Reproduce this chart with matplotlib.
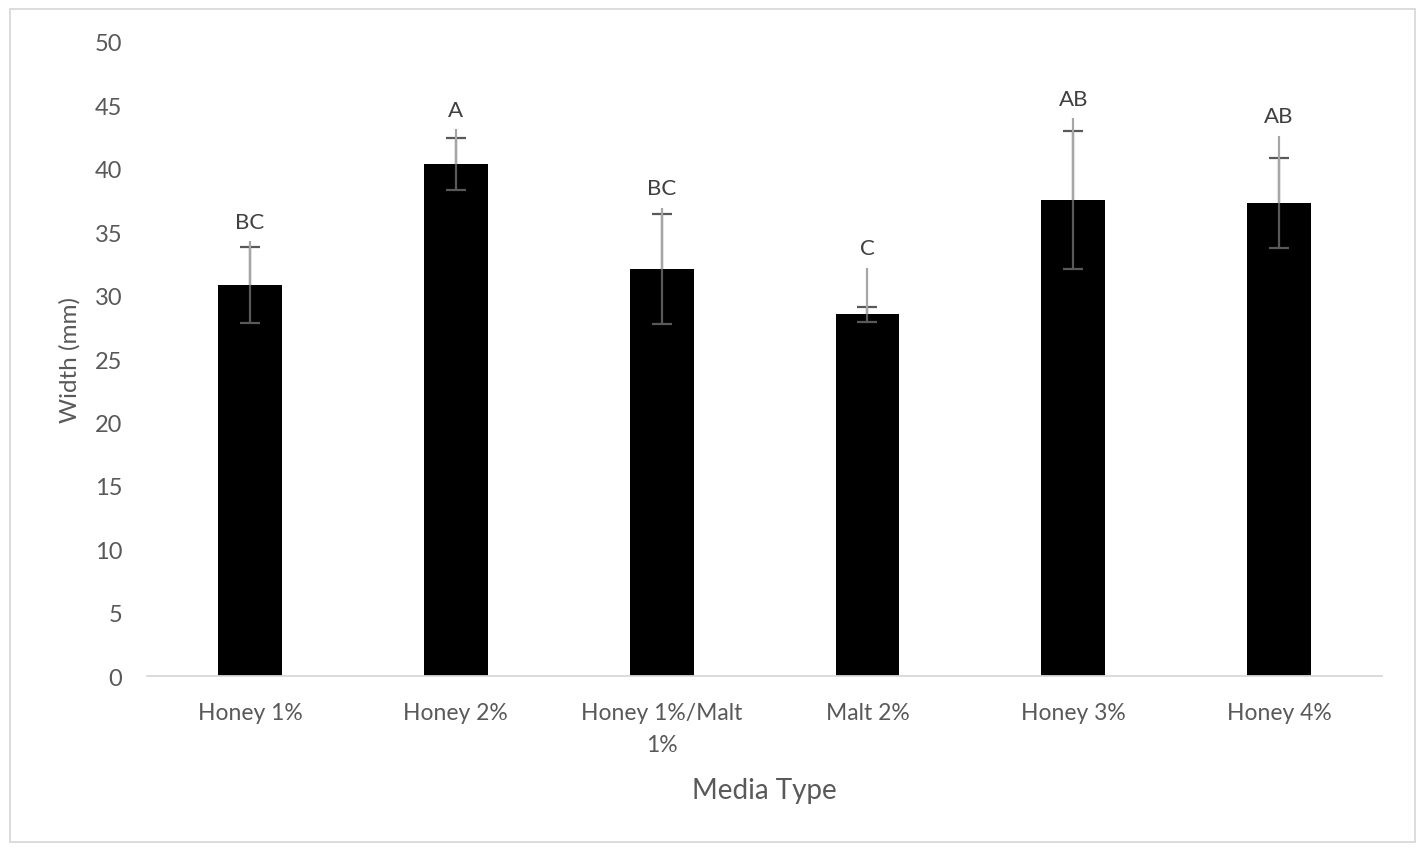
import matplotlib.pyplot as plt
from matplotlib.patches import Rectangle
import numpy as np

# datos
medios = ['Honey 1%', 'Honey 2%', 'Honey 1%/Malt\n1%', 'Malt 2%', 'Honey 3%', 'Honey 4%']
ancho = [30.84, 40.38, 32.1, 28.52, 37.54, 37.28]
error = [3.0, 2.04, 4.3, 0.57, 5.47, 3.54]
tope_claro = [34.27, 43.1, 36.9, 32.2, 43.98, 42.57]
letras = ['BC', 'A', 'BC', 'C', 'AB', 'AB']

plt.rcParams['font.family'] = ['Lato', 'DejaVu Sans']
gris = '#595959'

fig = plt.figure(figsize=(14.25, 8.53), dpi=100)
ax = fig.add_axes([0.1032, 0.2063, 0.8666, 0.7433])

x = np.arange(len(medios))
ax.bar(x, ancho, width=0.31, color='black', zorder=2)
ax.errorbar(x, ancho, yerr=error, fmt='none', ecolor=gris, elinewidth=1.6,
            capsize=7, capthick=1.6, zorder=3)
ax.vlines(x, ancho, tope_claro, color='#a6a6a6', linewidth=1.6, zorder=4)

for xi, yi, t in zip(x, tope_claro, letras):
    ax.annotate(t, (xi, yi), xytext=(0, 7), textcoords='offset points',
                ha='center', va='bottom', fontsize=16, color='#404040')

ax.set_xlim(-0.5, 5.5)
ax.set_ylim(0, 50)
ax.set_yticks(range(0, 51, 5))
ax.set_xticks(x)
ax.set_xticklabels(medios, fontsize=16.5, color=gris, linespacing=1.6)
ax.tick_params(axis='y', labelsize=17, labelcolor=gris, length=0, pad=18)
ax.tick_params(axis='x', length=0, pad=19)

for s in ['top', 'right', 'left']:
    ax.spines[s].set_visible(False)
ax.spines['bottom'].set_color('#d9d9d9')
ax.spines['bottom'].set_linewidth(1.3)

ax.set_xlabel('Media Type', fontsize=20, color=gris, labelpad=16)
ax.set_ylabel('Width (mm)', fontsize=17.5, color=gris, labelpad=10)

fig.patches.append(Rectangle((10/1425, 10/853), 1405/1425, 833/853,
                             transform=fig.transFigure, fill=False,
                             edgecolor='#d9d9d9', linewidth=1.3))

plt.savefig('out.png', dpi=100)
